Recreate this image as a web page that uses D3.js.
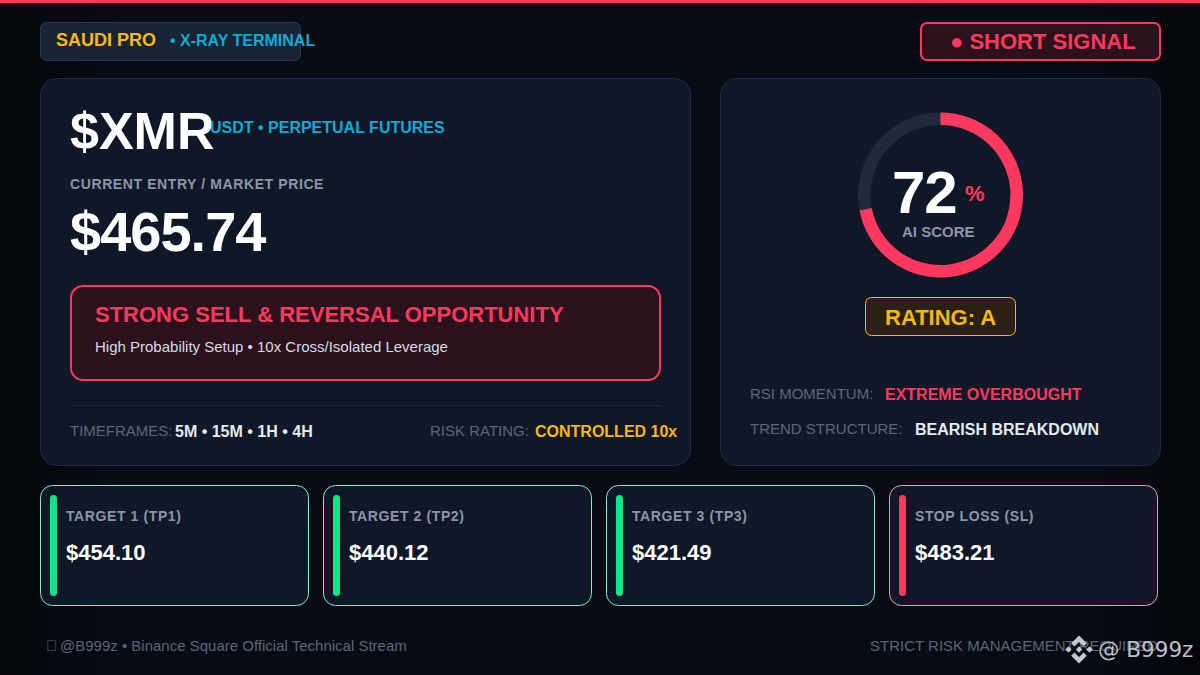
<!DOCTYPE html>
<html>
<head>
<meta charset="utf-8">
<script src="https://cdn.jsdelivr.net/npm/d3@7"></script>
<style>
  html, body { margin: 0; padding: 0; background: #05080f; }
  svg { display: block; }
  text { font-family: "Liberation Sans", Arial, sans-serif; }
</style>
</head>
<body>
<div id="chart"></div>
<script>
(function () {
  const targetLabels = ["TARGET 1 (TP1)", "TARGET 2 (TP2)", "TARGET 3 (TP3)", "STOP LOSS (SL)"];
  const targetPrices = ["$454.10", "$440.12", "$421.49", "$483.21"];
  const targetKinds = ["tp", "tp", "tp", "sl"];
  const aiScore = [72];
  const timeframes = "5M • 15M • 1H • 4H";

  const RED = "#ff3860";
  const GOLD = "#f5b90f";
  const CYAN = "#06aed5";
  const PANEL = "#101827";
  const EDGE = "#1e2b40";
  const GREY = "#8b95a8";
  const DIM = "#5c6577";

  const width = 1200;
  const height = 675;

  const svg = d3.select("#chart").append("svg").attr("width", width).attr("height", height);

  const defs = svg.append("defs");
  const bg = defs.append("linearGradient").attr("id", "bg").attr("x1", 0).attr("x2", 1).attr("y1", 0).attr("y2", 0);
  bg.append("stop").attr("offset", 0).attr("stop-color", "#04060b");
  bg.append("stop").attr("offset", 0.1).attr("stop-color", "#070b13");
  bg.append("stop").attr("offset", 0.9).attr("stop-color", "#070b13");
  bg.append("stop").attr("offset", 1).attr("stop-color", "#04060b");

  svg.append("rect").attr("width", width).attr("height", height).attr("fill", "url(#bg)");
  svg.append("rect").attr("width", width).attr("height", 3).attr("fill", RED);

  function box(x, y, w, h, r, fill, stroke, sw) {
    // keep the stroke inside the box, same as a css border
    const s = sw || 1;
    return svg.append("rect")
      .attr("x", x + s / 2).attr("y", y + s / 2)
      .attr("width", w - s).attr("height", h - s)
      .attr("rx", r).attr("fill", fill).attr("stroke", stroke).attr("stroke-width", s);
  }

  function label(x, y, str, size, color, weight, spacing) {
    return svg.append("text")
      .attr("x", x).attr("y", y).text(str)
      .attr("font-size", size).attr("fill", color)
      .attr("font-weight", weight || "normal")
      .attr("letter-spacing", spacing || 0);
  }

  // header
  box(40, 22, 261, 39, 6, "#1a2333", "#2a3650");
  label(56, 46, "SAUDI PRO", 18, GOLD, "bold");
  label(170, 46, "• X-RAY TERMINAL", 16, CYAN, "bold");

  box(920, 22, 241, 39, 6, "#2b111b", RED, 2);
  label(950, 49, "● SHORT SIGNAL", 22, RED, "bold");

  // main panel
  box(40, 78, 651, 388, 16, PANEL, EDGE);
  label(70, 149, "$XMR", 52, "#ffffff", "bold");
  label(210, 133, "USDT • PERPETUAL FUTURES", 16, CYAN, "bold");
  label(70, 189, "CURRENT ENTRY / MARKET PRICE", 14, GREY, "bold", 0.6);
  label(70, 251, "$465.74", 56, "#ffffff", "bold", -1);

  box(70, 285, 591, 96, 12, "#2b111b", RED, 2);
  label(95, 322, "STRONG SELL & REVERSAL OPPORTUNITY", 22, RED, "bold");
  label(95, 352, "High Probability Setup • 10x Cross/Isolated Leverage", 15, "#d7dce5");

  svg.append("rect").attr("x", 70).attr("y", 405).attr("width", 591).attr("height", 1).attr("fill", "#1e2a3a");
  label(70, 436, "TIMEFRAMES:", 15, DIM);
  label(175, 437, timeframes, 16, "#e5e9f0", "bold");
  label(430, 436, "RISK RATING:", 15, DIM);
  label(535, 437, "CONTROLLED 10x", 16, GOLD, "bold");

  // right panel with score ring
  box(720, 78, 441, 388, 16, PANEL, EDGE);

  const angle = d3.scaleLinear().domain([0, 100]).range([0, 2 * Math.PI]);
  const ringArc = d3.arc().innerRadius(70).outerRadius(82.5);
  const ring = svg.append("g").attr("transform", "translate(940.5,195)");
  ring.append("path")
    .attr("d", ringArc({ startAngle: 0, endAngle: angle(100) }))
    .attr("fill", "#1e293b");
  ring.selectAll("path.score")
    .data(aiScore)
    .join("path")
    .attr("class", "score")
    .attr("d", (d) => ringArc({ startAngle: 0, endAngle: angle(d) }))
    .attr("fill", RED);

  label(892, 213, String(aiScore[0]), 60, "#ffffff", "bold", -1);
  label(965, 201, "%", 22, RED, "bold");
  label(902, 237, "AI SCORE", 15, GREY, "bold");

  box(865, 297, 151, 39, 6, "#2a2112", GOLD);
  label(885, 325, "RATING: A", 22, GOLD, "bold");

  label(750, 399, "RSI MOMENTUM:", 15, DIM);
  label(885, 400, "EXTREME OVERBOUGHT", 16, RED, "bold");
  label(750, 434, "TREND STRUCTURE:", 15, DIM);
  label(915, 435, "BEARISH BREAKDOWN", 16, "#e5e9f0", "bold");

  // target cards
  const cardX = d3.scaleOrdinal().domain(targetLabels).range([40, 323, 606, 889]);
  const cards = svg.selectAll("g.card")
    .data(targetLabels.map((name, i) => ({ name, price: targetPrices[i], kind: targetKinds[i] })))
    .join("g")
    .attr("class", "card")
    .attr("transform", (d) => `translate(${cardX(d.name)},485)`);

  cards.append("rect")
    .attr("x", 0.5).attr("y", 0.5).attr("width", 268).attr("height", 120).attr("rx", 12)
    .attr("fill", PANEL)
    .attr("stroke", (d) => (d.kind === "tp" ? "#86e8c4" : "#f09aae"));
  cards.append("rect")
    .attr("x", 10).attr("y", 10).attr("width", 7).attr("height", 101).attr("rx", 3.5)
    .attr("fill", (d) => (d.kind === "tp" ? "#0ce68a" : RED));
  cards.append("text")
    .attr("x", 26).attr("y", 36).text((d) => d.name)
    .attr("font-size", 14).attr("font-weight", "bold").attr("fill", GREY)
    .attr("letter-spacing", 0.6);
  cards.append("text")
    .attr("x", 26).attr("y", 75).text((d) => d.price)
    .attr("font-size", 22).attr("font-weight", "bold").attr("fill", "#ffffff");

  // footer
  label(46, 651, "\uE000", 15, DIM);
  label(60, 651, "@B999z • Binance Square Official Technical Stream", 15, DIM);
  label(870, 651, "STRICT RISK MANAGEMENT REQUIRED", 15, DIM);

  // watermark
  const mark = svg.append("g").attr("transform", "translate(1079,649.5)").attr("fill", "#c4c7cb");
  const chevron = "M0,-14L7.8,-6.2L4.6,-3L0,-7.4L-4.6,-3L-7.8,-6.2Z";
  mark.append("path").attr("d", chevron);
  mark.append("path").attr("d", chevron).attr("transform", "scale(1,-1)");
  const diamond = d3.symbol().type(d3.symbolSquare).size(20);
  [-10.6, 0, 10.6].forEach((x) => {
    mark.append("path").attr("d", diamond()).attr("transform", `translate(${x},0) rotate(45)`);
  });
  svg.append("text")
    .attr("x", 1098).attr("y", 657).text("@ B999z")
    .attr("font-size", 21.5).attr("fill", "#bcc0c5")
    .style("font-family", "'DejaVu Sans', sans-serif");
})();
</script>
</body>
</html>
